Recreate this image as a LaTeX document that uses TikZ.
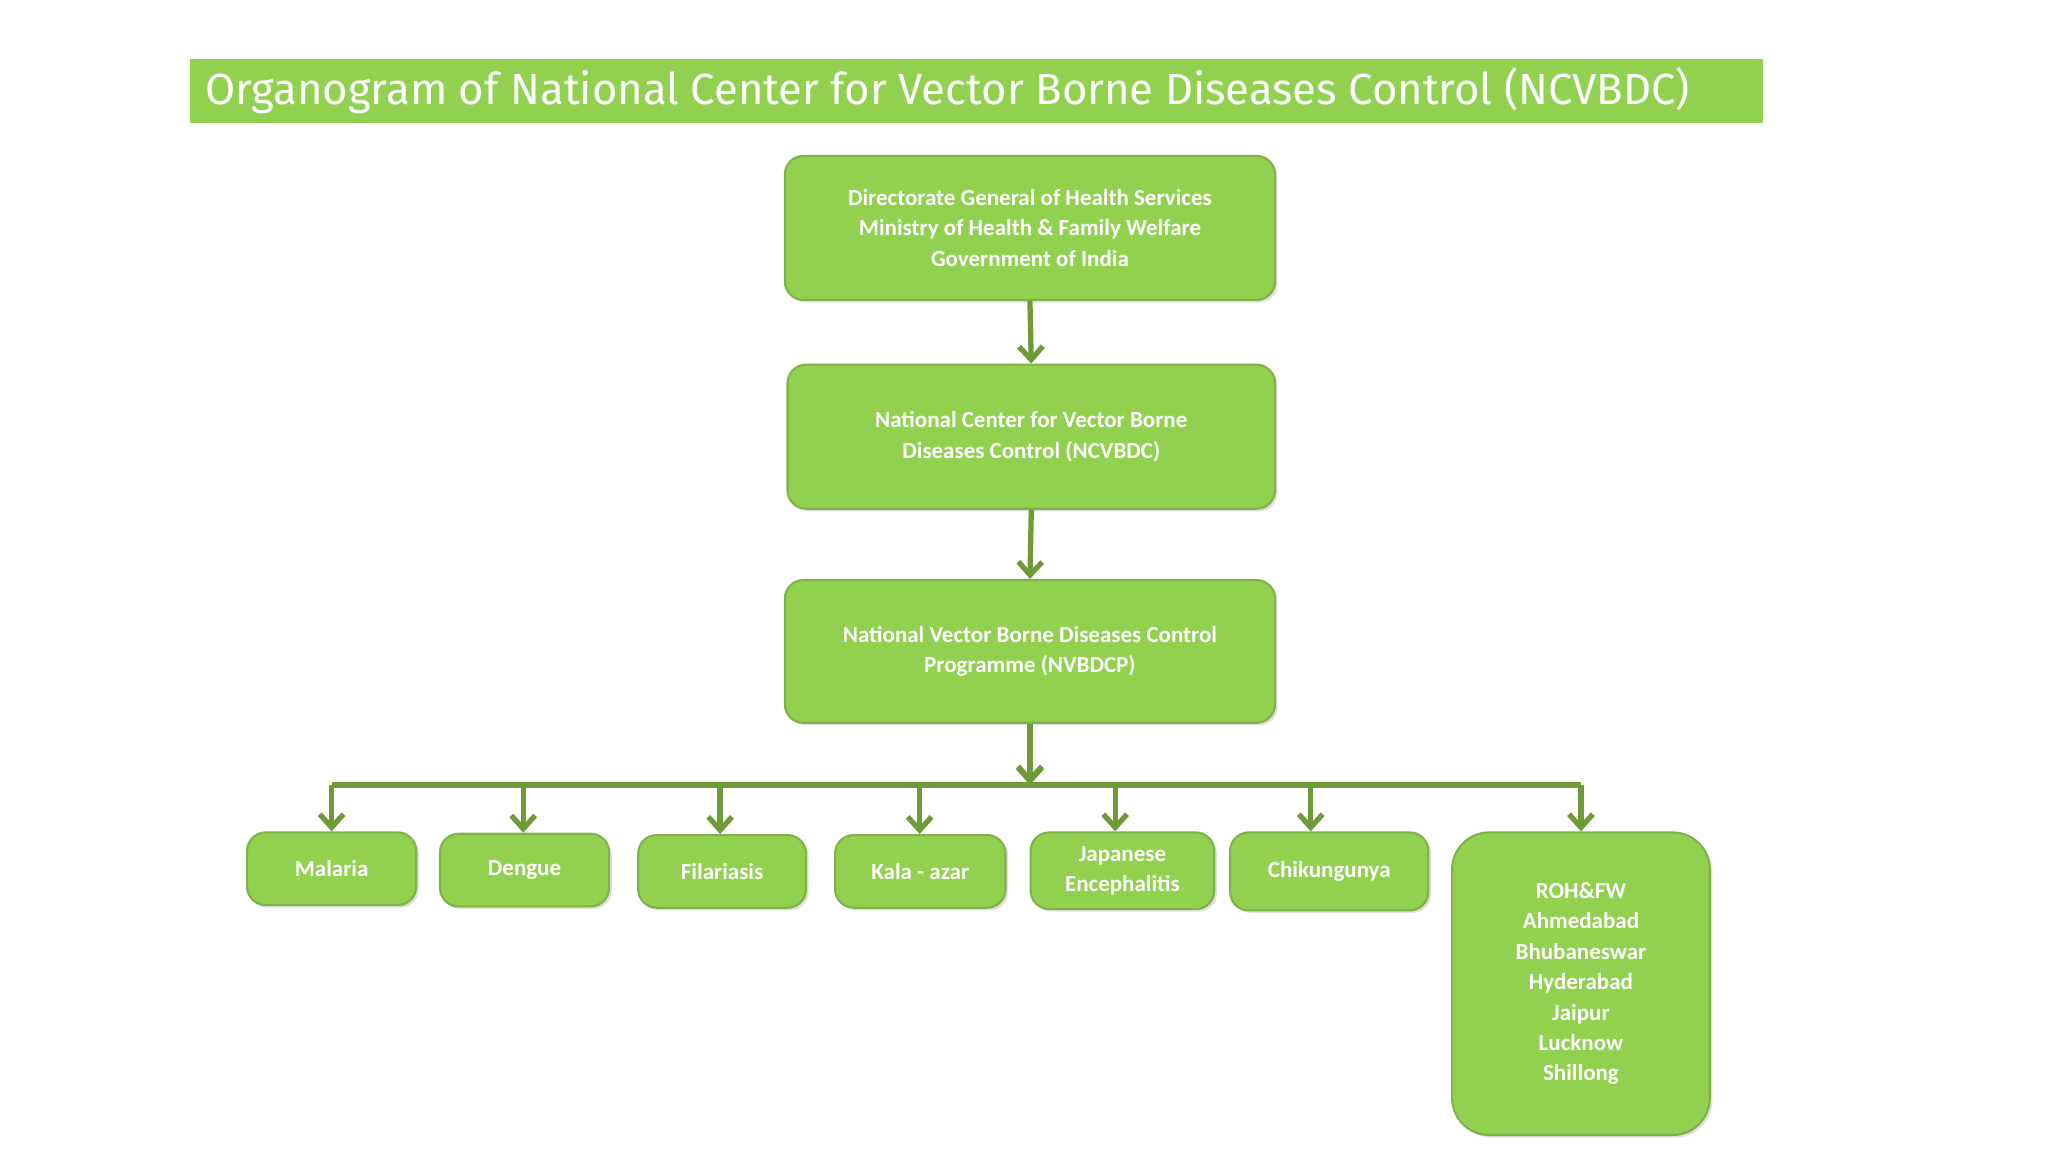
\documentclass[tikz,border=0pt]{standalone}
\usepackage{fontspec}
\setmainfont{Carlito}
\newfontfamily\titlefont{Fira Sans}
\usetikzlibrary{arrows.meta,shadows}
\definecolor{gfill}{HTML}{92D050}
\definecolor{gline}{HTML}{7FB347}
\definecolor{garrow}{HTML}{6E9A37}
\tikzset{
  x=0.5pt,y=-0.5pt,
  gbox/.style={draw=gline,line width=0.8pt,fill=gfill,rounded corners=7pt,
    text=white,font=\bfseries\fontsize{8.7}{11.5}\selectfont,align=center,
    inner sep=0pt,drop shadow={shadow xshift=1pt,shadow yshift=-1pt,opacity=0.25}},
  garr/.style={draw=garrow,line width=2pt,-{Straight Barb[length=5pt,width=9pt,line width=2pt]}},
  gline2/.style={draw=garrow,line width=2pt}
}
\begin{document}
\begin{tikzpicture}
\useasboundingbox (0,0) rectangle (1550,872);
\node[fill=gfill,minimum width=595pt,minimum height=24pt,inner sep=0pt] (title) at (739,69) {};
\node[anchor=west,text=white,font=\titlefont\fontsize{16.5}{18}\selectfont,inner sep=0pt] (titletext) at (155,69) {Organogram of National Center for Vector Borne Diseases Control (NCVBDC)};
\node[gbox,minimum width=185.5pt,minimum height=54.5pt] (dg) at (779.5,172.5) {Directorate General of Health Services\\Ministry of Health \& Family Welfare\\Government of India};
\node[gbox,minimum width=184.5pt,minimum height=54.5pt] (nc) at (780.5,330.5) {National Center for Vector Borne\\Diseases Control (NCVBDC)};
\node[gbox,minimum width=185.5pt,minimum height=54pt] (nv) at (779.5,493) {National Vector Borne Diseases Control\\Programme (NVBDCP)};
\node[gbox,minimum width=64pt,minimum height=27.5pt] (mal) at (251,657.5) {Malaria};
\node[gbox,minimum width=64pt,minimum height=27.5pt] (den) at (397,658.5) {Dengue};
\node[gbox,minimum width=63.5pt,minimum height=27.5pt] (fil) at (546.5,659.5) {Filariasis};
\node[gbox,minimum width=64.5pt,minimum height=27.5pt] (kal) at (696.5,659.5) {Kala - azar};
\node[gbox,minimum width=69.5pt,minimum height=29pt] (jap) at (849.5,659) {Japanese\\Encephalitis};
\node[gbox,minimum width=75pt,minimum height=29.5pt] (chi) at (1006,659.5) {Chikungunya};
\node[gbox,minimum width=97.5pt,minimum height=114.5pt,rounded corners=14pt] (roh) at (1196.5,744.5) {ROH\&FW\\Ahmedabad\\Bhubaneswar\\Hyderabad\\Jaipur\\Lucknow\\Shillong};
\draw[garr] (dg.south) -- (nc.north);
\draw[garr] (nc.south) -- (nv.north);
\coordinate (j) at (779.5,594);
\coordinate (bl) at (251,594);
\coordinate (br) at (1196.5,594);
\draw[gline2] (nv.south) -- (j);
\draw[garr] (j) -- ++(0,-1) -- (779.5,592) -- (779.5,593);
\draw[gline2] (bl) -- (br);
\foreach \n/\x in {mal/251,den/396,fil/545,kal/696,jap/844,chi/992,roh/1196.5}{
  \coordinate (t\n) at (\x,594);
  \draw[garr] (t\n) -- (t\n |- \n.north);
}
\draw[garr] (nv.south) -- (j);
\end{tikzpicture}
\end{document}
